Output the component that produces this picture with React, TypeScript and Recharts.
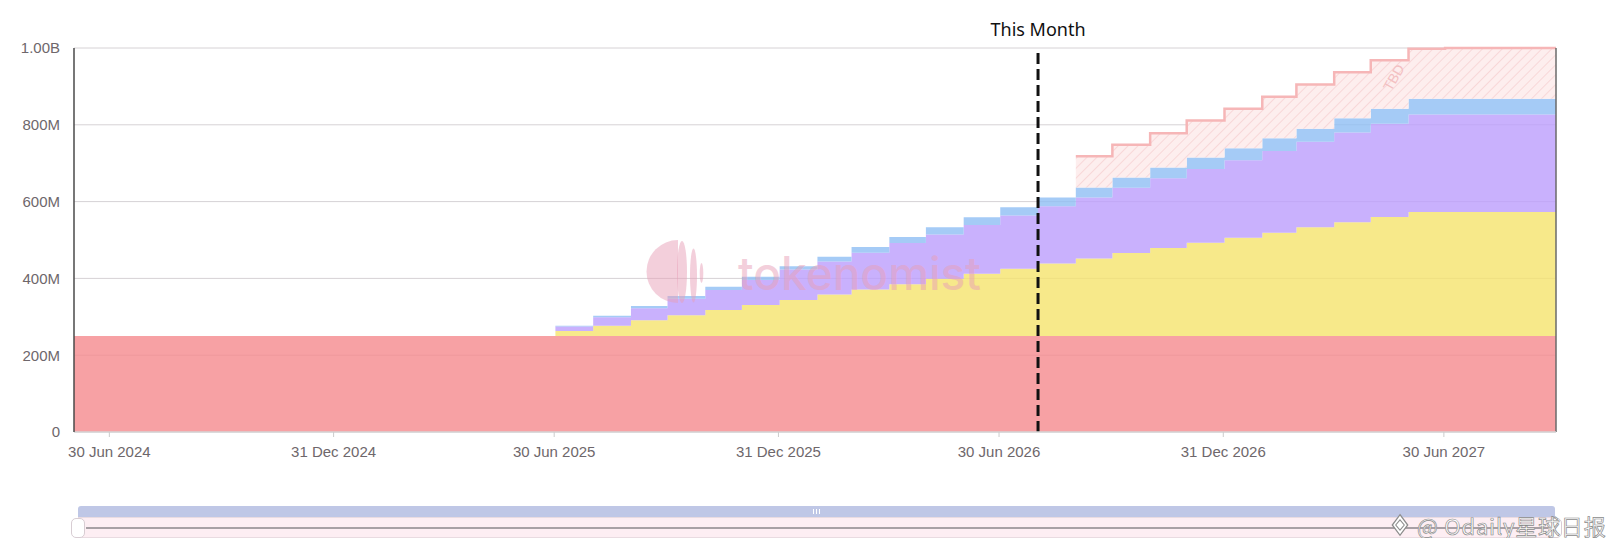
import React from 'react';
import { AreaChart, Area, XAxis, YAxis, CartesianGrid, ReferenceLine } from 'recharts';

// month starts (UTC), last entry closes the final step at the right edge
const MONTHS = [
  '2024-06-01', '2024-07-01', '2024-08-01', '2024-09-01', '2024-10-01', '2024-11-01', '2024-12-01',
  '2025-01-01', '2025-02-01', '2025-03-01', '2025-04-01', '2025-05-01', '2025-06-01',
  '2025-07-01', '2025-08-01', '2025-09-01', '2025-10-01', '2025-11-01', '2025-12-01',
  '2026-01-01', '2026-02-01', '2026-03-01', '2026-04-01', '2026-05-01', '2026-06-01',
  '2026-07-01', '2026-08-01', '2026-09-01', '2026-10-01', '2026-11-01', '2026-12-01',
  '2027-01-01', '2027-02-01', '2027-03-01', '2027-04-01', '2027-05-01', '2027-06-01',
  '2027-07-01', '2027-08-01', '2027-09-01', '2027-09-30',
];

// values in millions of tokens
const RED = [
  250, 250, 250, 250, 250, 250, 250, 250, 250, 250, 250, 250, 250, 250,
  250, 250, 250, 250, 250, 250, 250, 250, 250, 250, 250, 250, 250, 250,
  250, 250, 250, 250, 250, 250, 250, 250, 250, 250, 250, 250, 250,
];

// from 2025-07-01
const YELLOW = [
  13, 27, 41, 54, 68, 81, 94, 108, 121, 135, 149, 162, 175, 189,
  202, 216, 229, 243, 256, 269, 283, 296, 310, 323, 323, 323, 323, 323,
];
const PURPLE = [
  12, 22, 31, 43, 52, 65, 79, 86, 96, 107, 115, 127, 139, 149,
  159, 170, 182, 192, 202, 213, 223, 234, 243, 254, 254, 254, 254, 254,
];
const BLUE = [
  1.5, 3.6, 6.3, 7, 8, 8.5, 8.4, 12.6, 15, 16, 19, 20, 21, 23,
  26, 27, 28, 30, 31, 33, 34, 37, 39, 41, 41, 41, 41, 41,
];
// from 2026-09-01
const TBD = [81, 85, 89, 96, 103, 108, 115, 120, 126, 130, 132, 132, 132, 132];

const VEST_FROM = '2025-07-01';
const TBD_FROM = '2026-09-01';
const THIS_MONTH = '2026-08-01';

const X_TICKS = ['2024-06-30', '2024-12-31', '2025-06-30', '2025-12-31', '2026-06-30', '2026-12-31', '2027-06-30'];
const X_TICK_LABELS = ['30 Jun 2024', '31 Dec 2024', '30 Jun 2025', '31 Dec 2025', '30 Jun 2026', '31 Dec 2026', '30 Jun 2027'];
const Y_TICKS = [0, 200, 400, 600, 800, 1000];
const Y_TICK_LABELS = ['0', '200M', '400M', '600M', '800M', '1.00B'];

const ts = (d: string) => Date.parse(d + 'T00:00:00Z');

const vestIdx = MONTHS.indexOf(VEST_FROM);
const tbdIdx = MONTHS.indexOf(TBD_FROM);

const data = MONTHS.map((m, i) => ({
  t: ts(m),
  red: RED[i],
  yellow: i >= vestIdx ? YELLOW[i - vestIdx] : null,
  purple: i >= vestIdx ? PURPLE[i - vestIdx] : null,
  blue: i >= vestIdx ? BLUE[i - vestIdx] : null,
  tbd: i >= tbdIdx ? TBD[i - tbdIdx] : null,
}));

const xTickValues = X_TICKS.map(ts);
const xLabel = (v: number) => X_TICK_LABELS[xTickValues.indexOf(v)] ?? '';
const yLabel = (v: number) => Y_TICK_LABELS[Y_TICKS.indexOf(v)] ?? '';

const tickStyle = { fontSize: 15, fill: '#6e676b', fontFamily: '"Liberation Sans", Arial, sans-serif' };

export default function App() {
  return (
    <div style={{ position: 'relative', width: 1605, height: 530 }}>
      <AreaChart
        width={1605}
        height={470}
        data={data}
        margin={{ top: 40, right: 57, bottom: 16, left: 0 }}
      >
        <defs>
          <pattern id="tbdHatch" width="7" height="7" patternUnits="userSpaceOnUse" patternTransform="rotate(45)">
            <rect width="7" height="7" fill="#fdeeee" />
            <line x1="0" y1="0" x2="0" y2="7" stroke="#f6cdcf" strokeWidth="1.4" />
          </pattern>
        </defs>
        <CartesianGrid vertical={false} stroke="#d6d2d5" />
        <XAxis
          dataKey="t"
          type="number"
          domain={[ts(MONTHS[0]), ts(MONTHS[MONTHS.length - 1])]}
          ticks={xTickValues}
          tickFormatter={xLabel}
          tick={tickStyle}
          tickSize={5}
          tickMargin={9}
          stroke="#d3d3d3"
          axisLine={{ stroke: '#d6d6d6', strokeWidth: 1.5 }}
          tickLine={{ stroke: '#cccccc' }}
          height={30}
        />
        <YAxis
          type="number"
          domain={[0, 1000]}
          ticks={Y_TICKS}
          tickFormatter={yLabel}
          tick={tickStyle}
          tickLine={false}
          tickMargin={8}
          axisLine={{ stroke: '#4a4a4a', strokeWidth: 1.5 }}
          width={66}
        />
        <Area type="stepAfter" dataKey="red" stackId="s" stroke="none" fill="#f58a8d" fillOpacity={0.8} isAnimationActive={false} dot={false} activeDot={false} />
        <Area type="stepAfter" dataKey="yellow" stackId="s" stroke="none" fill="#f5e36d" fillOpacity={0.8} isAnimationActive={false} dot={false} activeDot={false} />
        <Area type="stepAfter" dataKey="purple" stackId="s" stroke="none" fill="#bb9dfd" fillOpacity={0.8} isAnimationActive={false} dot={false} activeDot={false} />
        <Area type="stepAfter" dataKey="blue" stackId="s" stroke="none" fill="#8fbef4" fillOpacity={0.8} isAnimationActive={false} dot={false} activeDot={false} />
        <Area type="stepAfter" dataKey="tbd" stackId="s" stroke="#f6b6b7" strokeWidth={2.5} fill="url(#tbdHatch)" fillOpacity={1} isAnimationActive={false} dot={false} activeDot={false} />
        <ReferenceLine x={ts(MONTHS[MONTHS.length - 1])} stroke="#6a6a6a" strokeWidth={1.5} />
        <ReferenceLine
          x={ts(THIS_MONTH)}
          stroke="#111111"
          strokeWidth={3}
          strokeDasharray="11 5"
          label={{ value: 'This Month', position: 'top', offset: 12, fill: '#111111', fontSize: 18, fontFamily: '"Noto Sans", sans-serif' }}
        />
      </AreaChart>

      {/* watermarks */}
      <svg width={1605} height={470} style={{ position: 'absolute', left: 0, top: 0, pointerEvents: 'none' }}>
        <g fill="#e8a0b8" fillOpacity={0.5}>
          <path d="M 670 232 A 31.5 31.5 0 1 0 670 295 Z" />
          <ellipse cx={674} cy={264} rx={5} ry={31} />
          <ellipse cx={685.5} cy={267.5} rx={3.5} ry={27} />
          <ellipse cx={693.5} cy={265} rx={1.8} ry={10} />
          <text x={730} y={282} fontSize={46} fontFamily="Inter, 'Noto Sans', sans-serif" fontWeight={500}>tokenomist</text>
        </g>
        <text x={1390} y={72} fontSize={14} fill="#f3c0c2" fontFamily="'Liberation Sans', Arial, sans-serif" transform="rotate(-60 1390 72)" textAnchor="middle">TBD</text>
      </svg>

      {/* range slider */}
      <div style={{ position: 'absolute', left: 70, top: 498, width: 1477, height: 11, background: '#bfc7e6', borderRadius: '3px 3px 0 0' }} />
      <div style={{ position: 'absolute', left: 805, top: 501, width: 7, height: 5, borderLeft: '1px solid #fff', borderRight: '1px solid #fff', boxSizing: 'border-box' }} />
      <div style={{ position: 'absolute', left: 808, top: 501, width: 1, height: 5, background: '#fff' }} />
      <div style={{ position: 'absolute', left: 70, top: 509, width: 1477, height: 21, background: '#fdeef3', border: '1px solid #e9dbe1', boxSizing: 'border-box' }} />
      <div style={{ position: 'absolute', left: 78, top: 519, width: 1462, height: 1.5, background: '#a8a0a5' }} />
      <div style={{ position: 'absolute', left: 63, top: 510, width: 14, height: 20, background: '#fff', border: '1px solid #d8cdd3', borderRadius: 5, boxSizing: 'border-box' }} />
      <div style={{ position: 'absolute', left: 1540, top: 510, width: 14, height: 20, background: '#fff', border: '1px solid #d8cdd3', borderRadius: 5, boxSizing: 'border-box' }} />

      <div style={{ position: 'absolute', left: 1380, top: 505, height: 24, display: 'flex', alignItems: 'center', pointerEvents: 'none' }}>
        <svg width={24} height={24} viewBox="0 0 24 28">
          <path d="M12 2 L21 14 L12 26 L3 14 Z" fill="#ffffff" stroke="#8c8c8c" strokeWidth={1.5} />
          <path d="M12 8 L17 14 L12 20 L7 14 Z" fill="none" stroke="#8c8c8c" strokeWidth={1.2} />
        </svg>
        <span style={{ marginLeft: 5, fontSize: 22, letterSpacing: 0.8, color: '#ffffff', WebkitTextStroke: '0.7px #8a8a8a', fontFamily: '"Noto Sans CJK SC", "Noto Sans", sans-serif', whiteSpace: 'nowrap', lineHeight: '24px' }}>
          @ Odaily星球日报
        </span>
      </div>
    </div>
  );
}
